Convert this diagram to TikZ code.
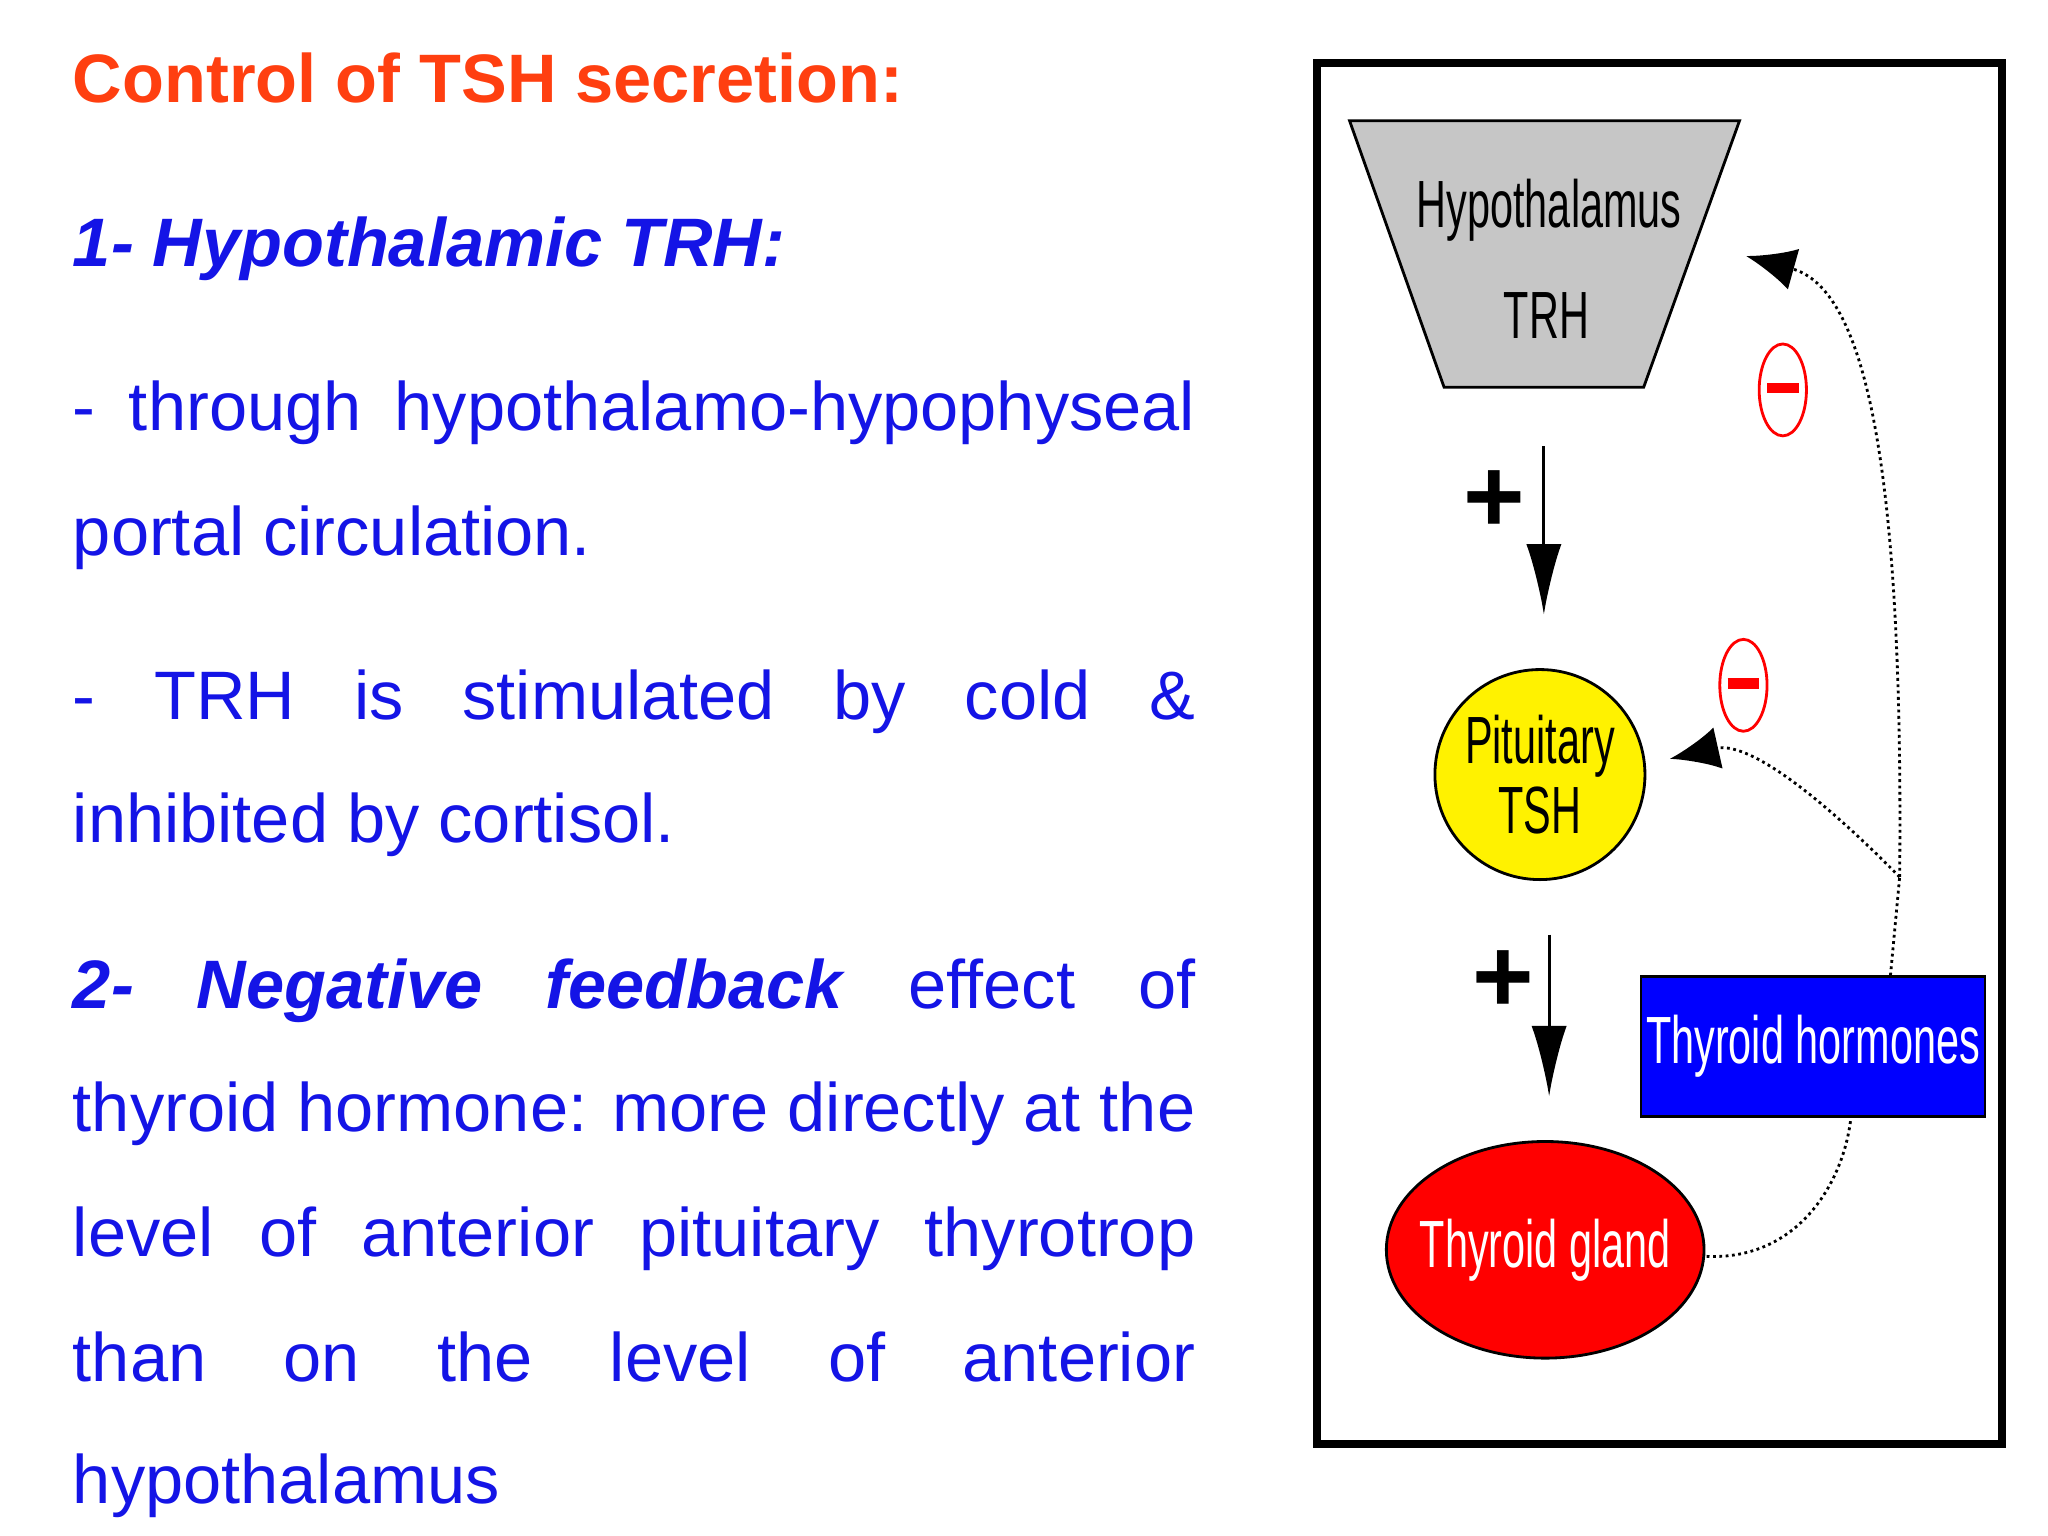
\documentclass[tikz,border=0pt]{standalone}
\usepackage{fontspec}
\setmainfont{Liberation Sans}
\usetikzlibrary{shapes.geometric,arrows.meta}
\definecolor{ttl}{HTML}{FF3F10}
\definecolor{txt}{HTML}{1414E6}
\tikzset{
  line/.style={anchor=base west,text=txt,font=\fontsize{19.5}{24}\selectfont,inner sep=0pt},
  lbl/.style={font=\fontsize{19}{22}\selectfont,xscale=.62,align=center},
  plus/.style={font=\bfseries\fontsize{30}{30}\selectfont},
  minus/.style={draw=red,thick,ellipse,inner sep=0pt,text=red},
  fb/.style={densely dotted,thick,-{Latex[length=14,width=12]}},
}
\newcommand{\jl}[1]{\makebox[855\unitlength][s]{#1}}
\begin{document}
\setlength{\unitlength}{0.01313cm}
\begin{tikzpicture}[x=0.01313cm,y=-0.01313cm]
\useasboundingbox (0,0) rectangle (1560,1170);
% text column
\node[line,text=ttl,font=\bfseries\fontsize{19.5}{24}\selectfont] (title) at (55,78) {Control of TSH secretion:};
\node[line,font=\bfseries\itshape\fontsize{19.5}{24}\selectfont] (h1) at (55,203) {1- Hypothalamic TRH:};
\node[line] (l1) at (55,328) {\jl{- through hypothalamo-hypophyseal}};
\node[line] (l2) at (55,423) {portal circulation.};
\node[line] (l3) at (55,548) {\jl{- TRH is stimulated by cold \&}};
\node[line] (l4) at (55,642) {inhibited by cortisol.};
\node[line] (l5) at (55,768) {\jl{\textbf{\textit{2- Negative feedback}} effect of}};
\node[line] (l6) at (55,862) {\jl{thyroid hormone: more directly at the}};
\node[line] (l7) at (55,957) {\jl{level of anterior pituitary thyrotrop}};
\node[line] (l8) at (55,1052) {\jl{than on the level of anterior}};
\node[line] (l9) at (55,1145) {hypothalamus};
% diagram
\draw[line width=2.2pt] (1003,48) rectangle (1525,1100);
\draw[thick,fill=gray!45] (1028,92) -- (1325,92) -- (1252,295) -- (1100,295) -- cycle;
\node[lbl] (hyp) at (1180,160) {Hypothalamus};
\node[lbl] (trh) at (1178,240) {TRH};
\node[draw,thick,fill=yellow,circle,minimum size=160\unitlength,inner sep=0pt] (pit) at (1173,590) {};
\node[lbl] at (pit) {Pituitary\\[-2pt]TSH};
\node[draw,thick,fill=red,ellipse,minimum width=242\unitlength,minimum height=165\unitlength] (gland) at (1177,952) {};
\node[lbl,text=white] at (gland) {Thyroid gland};
\node[draw,thick,fill=blue,minimum width=262\unitlength,minimum height=107\unitlength] (hormones) at (1381,797) {};
\node[lbl,text=white] at (hormones) {Thyroid hormones};
\coordinate (a1) at (1176,340);
\coordinate (a2) at (1176,468);
\coordinate (b1) at (1180,712);
\coordinate (b2) at (1180,835);
\draw[thick,-{Latex[length=20,width=10]}] (a1) -- (a2);
\draw[thick,-{Latex[length=20,width=10]}] (b1) -- (b2);
\node[plus] (p1) at (1138,382) {+};
\node[plus] (p2) at (1145,748) {+};
% feedback
\coordinate (j) at (1447,668);
\coordinate (tohyp) at (1330,195);
\coordinate (topit) at (1272,578);
\draw[densely dotted,thick] (1300,957) .. controls (1370,960) and (1405,900) .. (1410,850);
\draw[densely dotted,thick] (1440,743) -- (j);
\draw[fb] (j) .. controls (1450,350) and (1420,220) .. (tohyp);
\draw[fb] (j) .. controls (1380,600) and (1330,565) .. (topit);
\node[minus,minimum width=36\unitlength,minimum height=70\unitlength] (m1) at (1358,297) {\textcolor{red}{\rule[.2ex]{9pt}{3pt}}};
\node[minus,minimum width=36\unitlength,minimum height=70\unitlength] (m2) at (1328,522) {\textcolor{red}{\rule[.2ex]{9pt}{3pt}}};
\end{tikzpicture}
\end{document}
